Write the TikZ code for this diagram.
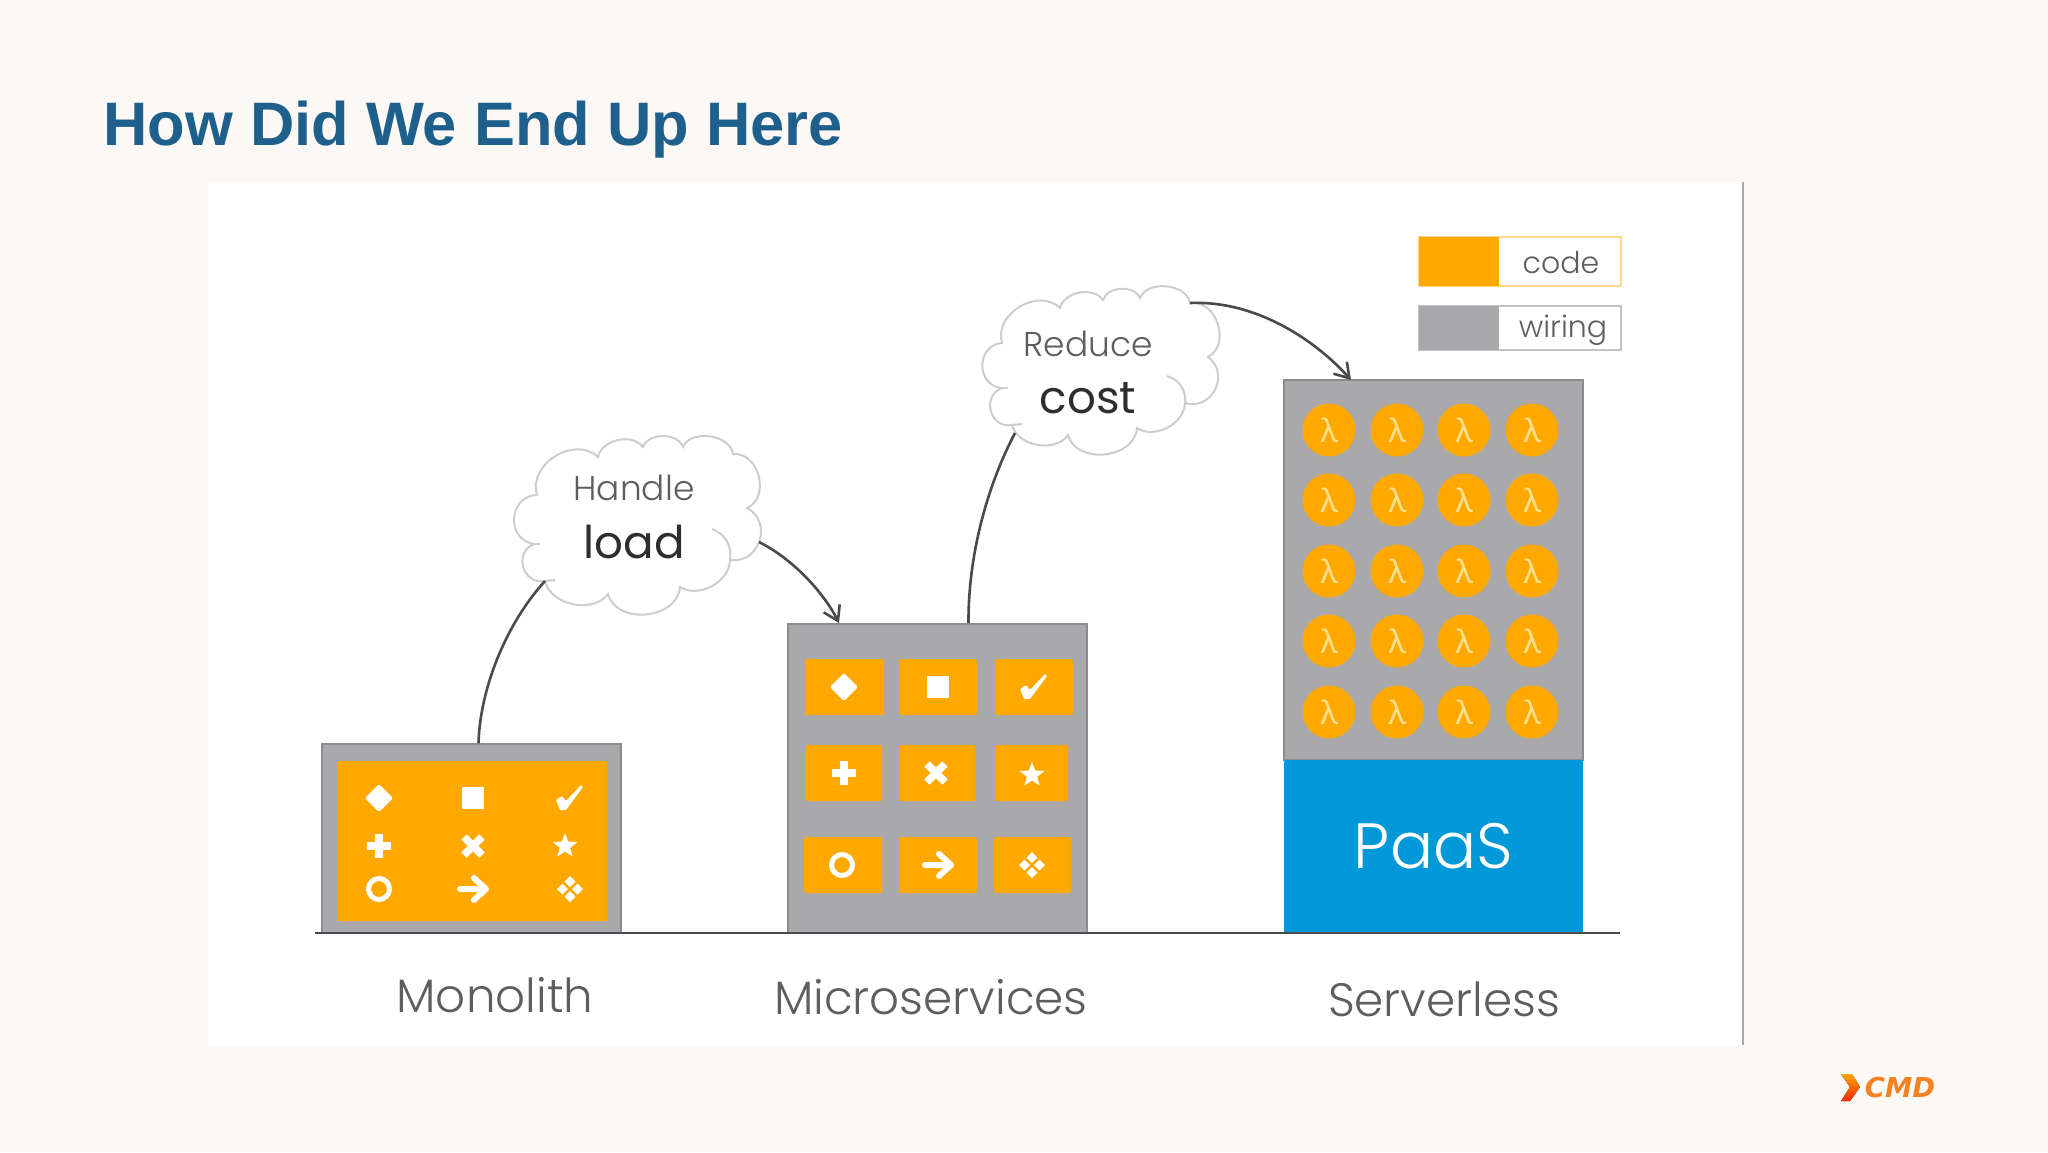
\documentclass[tikz,border=0pt]{standalone}
\usepackage{fontspec}
\setmainfont{Lato}
\newfontfamily\titlefont{Liberation Sans}
\newfontfamily\lightfont{Poppins Light}
\newfontfamily\regfont{Poppins}
\newfontfamily\logofont{DejaVu Sans}
\usetikzlibrary{arrows.meta,calc}
\definecolor{bgc}{HTML}{FBF8F5}
\definecolor{codec}{HTML}{FFA800}
\definecolor{wirec}{HTML}{A9A9AC}
\definecolor{edgec}{HTML}{8C8C8E}
\definecolor{bluec}{HTML}{0098D6}
\definecolor{titlec}{HTML}{1F5F8B}
\definecolor{linec}{HTML}{4A4A4E}
\definecolor{cloudc}{HTML}{CDCDCF}
\definecolor{labelc}{HTML}{5E5E62}
\definecolor{lamc}{HTML}{FFDE8C}
\definecolor{logoc}{HTML}{F58220}
\tikzset{
  x=0.5pt,y=-0.5pt,
  wirebox/.style={draw=edgec,line width=1pt,fill=wirec,inner sep=0pt,minimum width=149.5pt},
  cell/.style={fill=codec,inner sep=0pt,rounded corners=1pt},
  lam/.style={circle,fill=codec,inner sep=0pt,minimum size=26.5pt,text=lamc,font=\fontsize{17}{17}\selectfont},
  link/.style={draw=linec,line width=1.3pt},
  cloudline/.style={draw=cloudc,line width=1pt},
  biglabel/.style={text=labelc,font=\lightfont\fontsize{23.4}{23.4}\selectfont},
  soft/.style={text=labelc,font=\lightfont\fontsize{17.2}{17.2}\selectfont},
  strong/.style={text=black!82,font=\regfont\fontsize{22.6}{22.6}\selectfont},
  ic diamond/.pic={\fill[white,rounded corners=1pt] (0,-14)--(14,0)--(0,14)--(-14,0)--cycle;},
  ic square/.pic={\fill[white] (-11,-11) rectangle (11,11);},
  ic check/.pic={\fill[white,rounded corners=0.5pt] (-13,2)--(-7,-2)--(-3,3)--(12,-13)--(14,-11)--(-3,12)--(-9,12)--cycle;},
  ic plus/.pic={\draw[white,line width=3.8pt] (-12,0)--(12,0) (0,-12)--(0,12);},
  ic cross/.pic={\draw[white,line width=3.8pt] (-9,-9)--(9,9) (-9,9)--(9,-9);},
  ic star/.pic={\fill[white] (-90:13)--(-54:5.5)--(-18:13)--(18:5.5)--(54:13)--(90:5.5)--(126:13)--(162:5.5)--(198:13)--(234:5.5)--cycle;},
  ic ring/.pic={\draw[white,line width=2.5pt] (0,0) circle[radius=10.5];},
  ic arrow/.pic={\draw[white,line width=3pt,line cap=round,line join=round] (-13,0)--(12,0) (1,-11)--(13,0)--(1,11);},
  ic four/.pic={\fill[white] (-13,0)--(-7.5,-5.5)--(-2,0)--(-7.5,5.5)--cycle (13,0)--(7.5,-5.5)--(2,0)--(7.5,5.5)--cycle (0,-13)--(5.5,-7.5)--(0,-2)--(-5.5,-7.5)--cycle (0,13)--(5.5,7.5)--(0,2)--(-5.5,7.5)--cycle;},
}
\begin{document}
\begin{tikzpicture}
\useasboundingbox (0,0) rectangle (2048,1152);
\fill[bgc] (0,0) rectangle (2048,1152);
% panel
\fill[white] (208,182) rectangle (1743,1045);
\draw[wirec,line width=0.9pt] (1743,182) -- (1743,1045);
% title
\node[anchor=base west,inner sep=0pt,text=titlec,font=\titlefont\bfseries\fontsize{30.7}{30.7}\selectfont] (title) at (103,145) {How Did We End Up Here};

% boxes
\node[wirebox,minimum height=94.5pt] (mono) at (471.5,838.5) {};
\node[cell,minimum width=135pt,minimum height=80pt] (monocode) at (472,841) {};
\node[wirebox,minimum height=154.5pt] (micro) at (937.5,778.5) {};
\node[wirebox,minimum height=190pt] (server) at (1433.5,570) {};
\node[fill=bluec,inner sep=0pt,minimum width=149.5pt,minimum height=86.5pt,text=white,font=\lightfont\fontsize{32}{32}\selectfont] (paas) at (1433.5,846.5) {PaaS};

% microservice cells
\node[cell,minimum width=39.5pt,minimum height=28pt] (m11) at (844.5,687) {};
\node[cell,minimum width=39pt,minimum height=28pt] (m12) at (938,687) {};
\node[cell,minimum width=39pt,minimum height=28pt] (m13) at (1034,687) {};
\node[cell,minimum width=38pt,minimum height=28pt] (m21) at (844,773) {};
\node[cell,minimum width=38pt,minimum height=28pt] (m22) at (937,773) {};
\node[cell,minimum width=36.5pt,minimum height=28pt] (m23) at (1031.5,773) {};
\node[cell,minimum width=39pt,minimum height=28pt] (m31) at (843,865) {};
\node[cell,minimum width=39pt,minimum height=28pt] (m32) at (938,865) {};
\node[cell,minimum width=38.5pt,minimum height=28pt] (m33) at (1032.5,865) {};

% icons
\pic at (379,798) {ic diamond};
\pic at (473,798) {ic square};
\pic at (569,798) {ic check};
\pic at (379,846) {ic plus};
\pic at (473,846) {ic cross};
\pic at (565,846) {ic star};
\pic at (379,889) {ic ring};
\pic at (473,889) {ic arrow};
\pic at (570,889) {ic four};

\pic at (844,687) {ic diamond};
\pic at (938,687) {ic square};
\pic at (1033,687) {ic check};
\pic at (844,773) {ic plus};
\pic at (936,773) {ic cross};
\pic at (1032,775) {ic star};
\pic at (842,865) {ic ring};
\pic at (938,865) {ic arrow};
\pic at (1032,865) {ic four};

% lambdas
\foreach \r/\yy in {1/430,2/500,3/571,4/641,5/712}
  \foreach \c/\xx in {1/1329,2/1397,3/1464,4/1532}
    \node[lam] (lam\r\c) at (\xx,\yy) {λ};

% baseline
\coordinate (baseL) at (315,933);
\coordinate (baseR) at (1620,933);
\draw[draw=linec,line width=1.1pt] (baseL) -- (baseR);

% cloud 1
\coordinate (ca1) at (537,495);
\coordinate (ca2) at (598,457);
\coordinate (ca3) at (643,447);
\coordinate (ca4) at (683,447);
\coordinate (ca5) at (733,454);
\coordinate (ca6) at (747,508);
\coordinate (ca7) at (730,560);
\coordinate (ca8) at (680,587);
\coordinate (ca9) at (608,594);
\coordinate (ca10) at (545,581);
\coordinate (ca11) at (534,544);
\filldraw[cloudline,fill=white]
  (ca1) to[bend left=75,looseness=1.15] (ca2) to[bend left=65] (ca3) to[bend left=70] (ca4)
  to[bend left=75] (ca5) to[bend left=80,looseness=1.2] (ca6) to[bend left=80,looseness=1.4] (ca7)
  to[bend left=60] (ca8) to[bend left=80,looseness=1.15] (ca9) to[bend left=65] (ca10)
  to[bend left=85,looseness=1.5] (ca11) to[bend left=85,looseness=1.5] (ca1) -- cycle;
\draw[cloudline] (712,529) to[bend left=40] (ca7);
\draw[cloudline] (ca11) -- (540,544);
\draw[cloudline] (ca10) -- (555,580);
\node[soft] (handle) at (634,488) {Handle};
\node[strong] (load) at (634,542) {load};

% cloud 2
\coordinate (cb1) at (1002,343);
\coordinate (cb2) at (1060,308);
\coordinate (cb3) at (1103,300);
\coordinate (cb4) at (1140,298);
\coordinate (cb5) at (1190,303);
\coordinate (cb6) at (1208,357);
\coordinate (cb7) at (1185,403);
\coordinate (cb8) at (1137,428);
\coordinate (cb9) at (1068,435);
\coordinate (cb10) at (1012,425);
\coordinate (cb11) at (1002,388);
\filldraw[cloudline,fill=white]
  (cb1) to[bend left=75,looseness=1.15] (cb2) to[bend left=65] (cb3) to[bend left=70] (cb4)
  to[bend left=75] (cb5) to[bend left=80,looseness=1.2] (cb6) to[bend left=80,looseness=1.4] (cb7)
  to[bend left=60] (cb8) to[bend left=80,looseness=1.15] (cb9) to[bend left=65] (cb10)
  to[bend left=85,looseness=1.5] (cb11) to[bend left=85,looseness=1.5] (cb1) -- cycle;
\draw[cloudline] (1167,376) to[bend left=40] (cb7);
\draw[cloudline] (cb11) -- (1008,388);
\draw[cloudline] (cb10) -- (1022,424);
\node[soft] (reduce) at (1088,344) {Reduce};
\node[strong] (cost) at (1088,398) {cost};

% connectors
\draw[link] (ca10) .. controls (505,625) and (480,690) .. ($(mono.north)+(7,0)$);
\draw[link,-{Straight Barb[length=7pt,width=9pt]}] (759,542) .. controls (795,560) and (825,595) .. ($(micro.north west)+(52,0)$);
\draw[link] (1015,433) .. controls (985,490) and (968,560) .. ($(micro.north)+(31,0)$);
\draw[link,-{Straight Barb[length=7pt,width=9pt]}] (cb5) .. controls (1260,300) and (1320,345) .. ($(server.north west)+(68,1)$);

% legend
\node[draw=codec!45,fill=white,line width=0.7pt,inner sep=0pt,minimum width=101pt,minimum height=24.5pt] (lcode) at (1520,261.5) {};
\node[fill=codec,inner sep=0pt,minimum width=40pt,minimum height=24.5pt] (lcodeb) at (1459,261.5) {};
\node[soft,font=\lightfont\fontsize{15}{15}\selectfont] (codet) at (1561,263) {code};
\node[draw=wirec!70,fill=white,line width=0.7pt,inner sep=0pt,minimum width=101pt,minimum height=22pt] (lwire) at (1520,328) {};
\node[fill=wirec,inner sep=0pt,minimum width=40pt,minimum height=22pt] (lwireb) at (1459,328) {};
\node[soft,font=\lightfont\fontsize{15}{15}\selectfont] (wiret) at (1563,330) {wiring};

% bottom labels
\node[biglabel] (lmono) at (495,995) {Monolith};
\node[biglabel] (lmicro) at (931,997) {Microservices};
\node[biglabel] (lserver) at (1444,999) {Serverless};

% logo
\fill[top color=orange!70!yellow,bottom color=red!70!orange] (1841,1074)--(1852,1074)--(1860,1087)--(1850,1101)--(1841,1101)--(1850,1087)--cycle;
\node[text=logoc,inner sep=0pt,font=\logofont\bfseries\itshape\fontsize{13.7}{13.7}\selectfont] (cmd) at (1900,1088) {CMD};
\end{tikzpicture}
\end{document}
